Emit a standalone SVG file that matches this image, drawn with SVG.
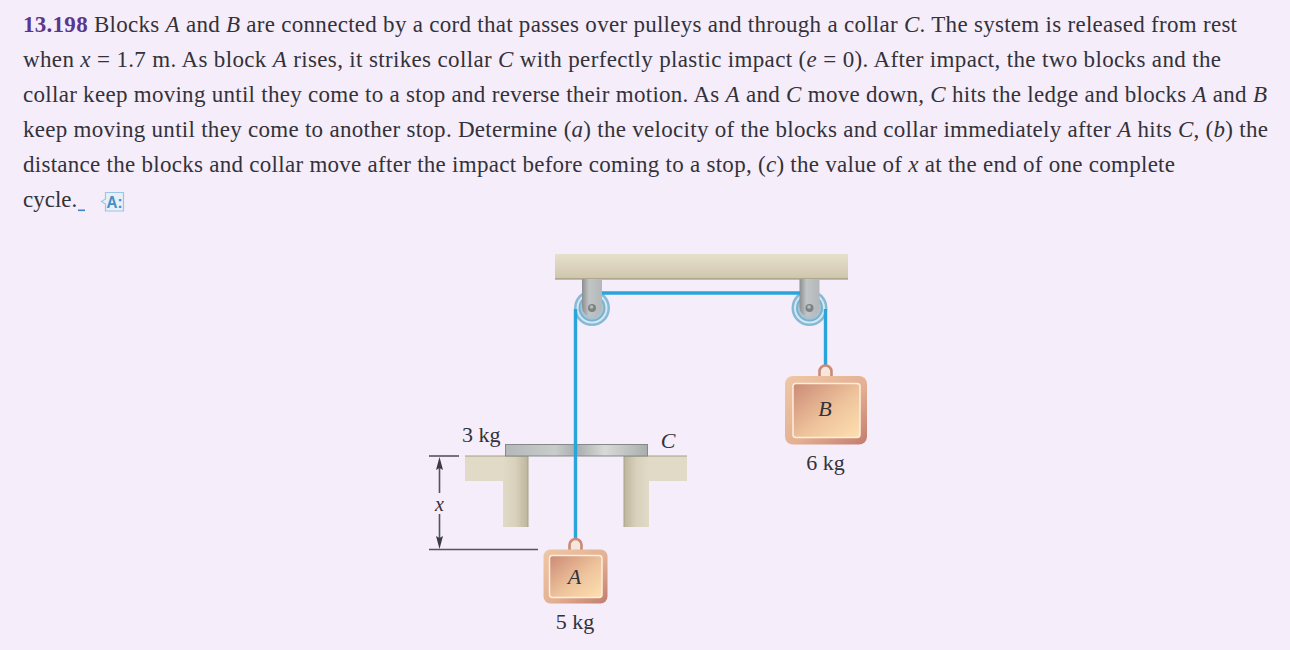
<svg xmlns="http://www.w3.org/2000/svg" width="1290" height="650" viewBox="0 0 1290 650">
<style>
text{font-family:"Liberation Serif","Times New Roman",serif;fill:#33323a}
.p{font-size:23px}
.l{font-size:22px}
.i{font-style:italic}
.cord{fill:none;stroke:#2aa5dc;stroke-width:3.400}
.dim{fill:none;stroke:#55535c;stroke-width:1.600}
.ring{fill:#f6e6dc;stroke:#c98a78;stroke-width:2.600}
</style>
<defs>
<linearGradient id="ceil" x1="0" y1="0" x2="0" y2="1"><stop offset="0" stop-color="#e6e0cc"/><stop offset="0.92" stop-color="#d0c7af"/><stop offset="1" stop-color="#8f866c"/></linearGradient>
<linearGradient id="stemL" gradientUnits="userSpaceOnUse" x1="503" y1="0" x2="528" y2="0"><stop offset="0" stop-color="#e0dac6"/><stop offset="0.5" stop-color="#d8d1bc"/><stop offset="1" stop-color="#bdb59d"/></linearGradient>
<linearGradient id="stemR" gradientUnits="userSpaceOnUse" x1="624" y1="0" x2="649" y2="0"><stop offset="0" stop-color="#bdb59d"/><stop offset="0.5" stop-color="#d8d1bc"/><stop offset="1" stop-color="#e0dac6"/></linearGradient>
<linearGradient id="collar" x1="0" y1="0" x2="1" y2="0"><stop offset="0" stop-color="#b4b8b8"/><stop offset="0.35" stop-color="#c8cccb"/><stop offset="0.5" stop-color="#a8adae"/><stop offset="0.7" stop-color="#d8dad8"/><stop offset="1" stop-color="#a9aead"/></linearGradient>
<linearGradient id="bracket" x1="0" y1="0" x2="1" y2="0"><stop offset="0" stop-color="#8a8e90"/><stop offset="0.35" stop-color="#c2c5c6"/><stop offset="1" stop-color="#b4b7b9"/></linearGradient>
<linearGradient id="blockOut" x1="0" y1="0" x2="1" y2="1"><stop offset="0" stop-color="#efc8a6"/><stop offset="0.55" stop-color="#e4b093"/><stop offset="1" stop-color="#c27c6e"/></linearGradient>
<linearGradient id="blockIn" x1="0" y1="0" x2="1" y2="1"><stop offset="0" stop-color="#cb8a76"/><stop offset="0.55" stop-color="#eec39c"/><stop offset="1" stop-color="#fde0b0"/></linearGradient>
<g id="pulley">
<circle r="18" fill="#86b9d6"/><circle r="15.500" fill="#d3e8f0"/><circle r="13.500" fill="#78b2d0"/><circle r="11.500" fill="#aac3cf"/>
</g>
</defs>
<rect width="1290" height="650" fill="#f5edf9"/>
<g id="statement">
<text class="p" x="23" y="32" textLength="1214"><tspan font-weight="bold" fill="#5b3690">13.198</tspan> Blocks <tspan class="i">A</tspan> and <tspan class="i">B</tspan> are connected by a cord that passes over pulleys and through a collar <tspan class="i">C</tspan>. The system is released from rest</text>
<text class="p" x="23" y="67" textLength="1198">when <tspan class="i">x</tspan> = 1.7 m. As block <tspan class="i">A</tspan> rises, it strikes collar <tspan class="i">C</tspan> with perfectly plastic impact (<tspan class="i">e</tspan> = 0). After impact, the two blocks and the</text>
<text class="p" x="23" y="102" textLength="1244">collar keep moving until they come to a stop and reverse their motion. As <tspan class="i">A</tspan> and <tspan class="i">C</tspan> move down, <tspan class="i">C</tspan> hits the ledge and blocks <tspan class="i">A</tspan> and <tspan class="i">B</tspan></text>
<text class="p" x="23" y="137" textLength="1245">keep moving until they come to another stop. Determine (<tspan class="i">a</tspan>) the velocity of the blocks and collar immediately after <tspan class="i">A</tspan> hits <tspan class="i">C</tspan>, (<tspan class="i">b</tspan>) the</text>
<text class="p" x="23" y="172" textLength="1152">distance the blocks and collar move after the impact before coming to a stop, (<tspan class="i">c</tspan>) the value of <tspan class="i">x</tspan> at the end of one complete</text>
<text class="p" x="23" y="207">cycle.</text>
<rect x="78" y="209.500" width="7" height="1.600" fill="#3f86c0"/>
</g>
<g id="icon">
<path d="M105.500 192.500 H123.500 V211 H105.500 V204 L101.500 201.500 L105.500 199 Z" fill="#e6f0f8" stroke="#9cc6e6" stroke-width="1.200"/>
<text x="106.500" y="208" textLength="16" lengthAdjust="spacingAndGlyphs" style="font-family:'Liberation Sans',sans-serif;font-size:17px;font-weight:bold;fill:#4a8cc4">A:</text>
</g>
<g id="ceiling"><rect x="555" y="254" width="293" height="25.500" fill="url(#ceil)"/></g>
<g id="pulley-left">
<use href="#pulley" x="592" y="308"/>
<path d="M582 279 H602 V307 A10 10 0 0 1 582 307 Z" fill="url(#bracket)"/>
<circle cx="592" cy="308" r="4" fill="#7d8285"/><circle cx="591.500" cy="307" r="1.800" fill="#b8bcbe"/>
</g>
<g id="pulley-right">
<use href="#pulley" x="809.500" y="308"/>
<path d="M799.500 279 H819.500 V307 A10 10 0 0 1 799.500 307 Z" fill="url(#bracket)"/>
<circle cx="809.500" cy="308" r="4" fill="#7d8285"/><circle cx="809" cy="307" r="1.800" fill="#b8bcbe"/>
</g>
<g id="ledge-left">
<path d="M465 456 H528 V527 H503 V481 H465 Z" fill="url(#stemL)"/>
<path d="M465 456 H528 V527" fill="none" stroke="#a89f85" stroke-width="1"/>
</g>
<g id="ledge-right">
<path d="M624 456 H687 V481 H649 V527 H624 Z" fill="url(#stemR)"/>
<path d="M687 456 H624 V527" fill="none" stroke="#a89f85" stroke-width="1"/>
</g>
<g id="collar-C">
<rect x="505.500" y="444.500" width="142" height="11.500" fill="url(#collar)" stroke="#85898b" stroke-width="1"/>
<text class="l i" x="668" y="448" text-anchor="middle">C</text>
<text class="l" x="462" y="442">3 kg</text>
</g>
<g id="connectors">
<path class="cord" d="M602 293 H800"/>
<path class="cord" d="M575.500 309 V549"/>
<path class="cord" d="M825.500 309 V370"/>
<path class="dim" d="M429 456 H459"/>
<path class="dim" d="M429 549.500 H538"/>
<path class="dim" d="M439.500 466 V493 M439.500 514 V540"/>
<path d="M436 470 L439.500 457 L443 470 L439.500 468 Z M436 536 L439.500 549 L443 536 L439.500 538 Z" fill="#3c3a42"/>
</g>
<text class="l i" x="439.500" y="511" text-anchor="middle" style="font-size:20px">x</text>
<g id="block-A">
<rect x="569.500" y="539" width="12" height="16" rx="6" class="ring"/>
<rect x="543.500" y="549.500" width="64" height="54" rx="7" fill="url(#blockOut)"/>
<rect x="549.500" y="555.500" width="52.500" height="42" rx="3" fill="url(#blockIn)" stroke="#fbeedd" stroke-width="1.500"/>
<text class="l i" x="574.500" y="584" text-anchor="middle">A</text>
<text class="l" x="575" y="629" text-anchor="middle">5 kg</text>
</g>
<g id="block-B">
<rect x="819.500" y="365.500" width="12" height="16" rx="6" class="ring"/>
<rect x="785" y="376" width="82" height="68.500" rx="8" fill="url(#blockOut)"/>
<rect x="793" y="383.500" width="67" height="54" rx="3" fill="url(#blockIn)" stroke="#fbeedd" stroke-width="1.500"/>
<text class="l i" x="825" y="416" text-anchor="middle">B</text>
<text class="l" x="825.500" y="470" text-anchor="middle">6 kg</text>
</g>
</svg>
